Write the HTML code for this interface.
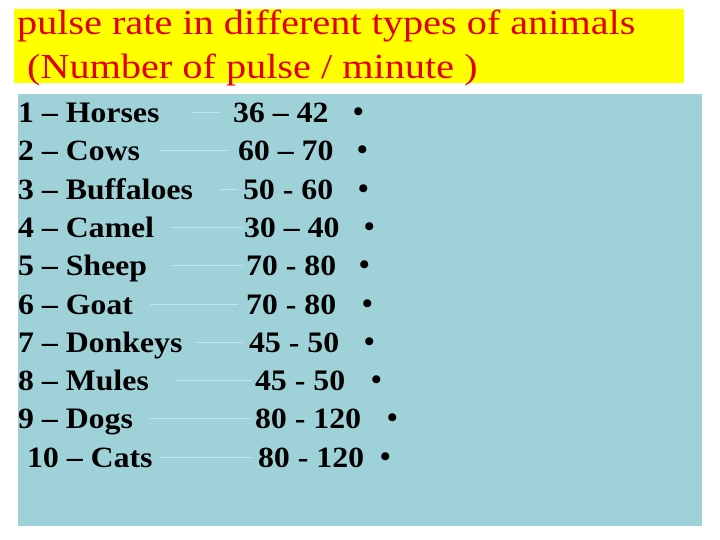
<!DOCTYPE html>
<html>
<head>
<meta charset="utf-8">
<style>
  html,body{margin:0;padding:0;background:#fff;}
  #slide{position:relative;width:720px;height:540px;overflow:hidden;background:#fff;font-family:"Liberation Serif",serif;}
  #title-box{position:absolute;left:14px;top:9px;width:670px;height:74px;background:#ffff00;}
  .title{position:absolute;color:#e00000;font-size:35px;white-space:nowrap;line-height:1;transform-origin:0 0;transform:scaleX(1.15);}
  #panel{position:absolute;left:18px;top:94px;width:684px;height:432px;background:#9fd2d8;}
  .row{position:absolute;font-weight:bold;font-size:30px;line-height:1;white-space:nowrap;color:#000;transform-origin:0 0;transform:scaleX(1.06);}
  .bul{position:absolute;font-weight:bold;font-size:30px;line-height:1;color:#000;}
  .conn{position:absolute;height:1px;background:#c4e6ea;}
</style>
</head>
<body>
<div id="slide">
  <div id="title-box"></div>
  <div class="title" style="left:17px;top:5px;">pulse rate in different types of animals</div>
  <div class="title" style="left:27px;top:49px;">(Number of pulse / minute )</div>
  <div id="panel"></div>
</div>
<script>
const animals = ["1 – Horses","2 – Cows","3 – Buffaloes","4 – Camel","5 – Sheep","6 – Goat","7 – Donkeys","8 – Mules","9 – Dogs","10 – Cats"];
const rates = ["36 – 42","60 – 70","50 - 60","30 – 40","70 - 80","70 - 80","45 - 50","45 - 50","80 - 120","80 - 120"];
const nameX = [18,18,18,18,18,18,18,18,18,27];
const rateX = [233,238,243,244,246,246,249,255,255,258];
const bulletX = [358,362,363,369,364,367,369,376,392,385];
const connX = [[192,220],[160,228],[220,238],[172,243],[172,243],[150,238],[196,243],[175,252],[150,250],[160,252]];
const container = document.getElementById('slide');
for (let i = 0; i < animals.length; i++) {
  const base = 122 + i * 38.3;
  const top = base - 24;
  const c = document.createElement('div');
  c.className = 'conn';
  c.style.left = connX[i][0] + 'px';
  c.style.top = (base - 10) + 'px';
  c.style.width = (connX[i][1] - connX[i][0]) + 'px';
  
  
  container.appendChild(c);
  const n = document.createElement('div');
  n.className = 'row';
  n.style.left = nameX[i] + 'px';
  n.style.top = top + 'px';
  n.textContent = animals[i];
  
  
  container.appendChild(n);
  const r = document.createElement('div');
  r.className = 'row';
  r.style.left = rateX[i] + 'px';
  r.style.top = top + 'px';
  r.textContent = rates[i];
  
  
  container.appendChild(r);
  const b = document.createElement('div');
  b.className = 'bul';
  b.style.left = (bulletX[i] - 5) + 'px';
  b.style.top = (base - 25) + 'px';
  b.textContent = '•';
  
  
  container.appendChild(b);
}
</script>
</body>
</html>
